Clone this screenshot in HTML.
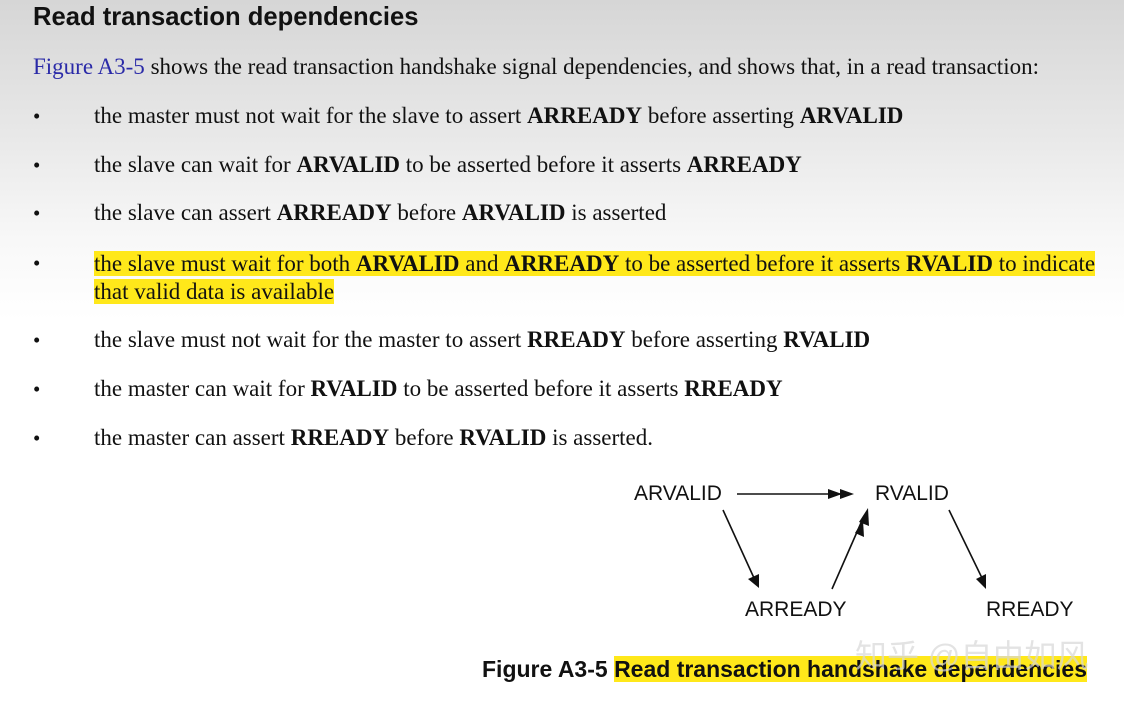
<!DOCTYPE html>
<html><head><style>
body{margin:0;width:1124px;height:702px;overflow:hidden;background:linear-gradient(#d6d6d6 0px,#e6e6e6 120px,#f8f8f8 240px,#fff 320px);position:relative;font-family:"Liberation Serif",serif;color:#111}
.t{position:absolute;font-size:23px;white-space:nowrap;line-height:26px}
.b{position:absolute;left:33px;font-size:21px;line-height:26px}
.s{position:absolute;font-family:"Liberation Sans",sans-serif;font-size:21px;white-space:nowrap;line-height:22px}
.hl{background:#ffe81a}
</style></head><body>
<div class="s" style="left:33px;top:6px;font-size:25.6px;font-weight:bold">Read transaction dependencies</div>
<div class="t" style="left:33px;top:54px"><span style="color:#2a2aa8">Figure A3-5</span> shows the read transaction handshake signal dependencies, and shows that, in a read transaction:</div>
<div class="b" style="top:103px">•</div><div class="t" style="left:94px;top:103px">the master must not wait for the slave to assert <b>ARREADY</b> before asserting <b>ARVALID</b></div>
<div class="b" style="top:152px">•</div><div class="t" style="left:94px;top:152px">the slave can wait for <b>ARVALID</b> to be asserted before it asserts <b>ARREADY</b></div>
<div class="b" style="top:200px">•</div><div class="t" style="left:94px;top:200px">the slave can assert <b>ARREADY</b> before <b>ARVALID</b> is asserted</div>
<div class="b" style="top:250px">•</div><div class="t" style="left:94px;top:250px;line-height:28px"><span class="hl">the slave must wait for both <b>ARVALID</b> and <b>ARREADY</b> to be asserted before it asserts <b>RVALID</b> to indicate</span><br><span class="hl">that valid data is available</span></div>
<div class="b" style="top:327px">•</div><div class="t" style="left:94px;top:327px">the slave must not wait for the master to assert <b>RREADY</b> before asserting <b>RVALID</b></div>
<div class="b" style="top:376px">•</div><div class="t" style="left:94px;top:376px">the master can wait for <b>RVALID</b> to be asserted before it asserts <b>RREADY</b></div>
<div class="b" style="top:425px">•</div><div class="t" style="left:94px;top:425px">the master can assert <b>RREADY</b> before <b>RVALID</b> is asserted.</div>
<div class="s" style="left:634px;top:483px">ARVALID</div>
<div class="s" style="left:875px;top:483px">RVALID</div>
<div class="s" style="left:745px;top:599px">ARREADY</div>
<div class="s" style="left:986px;top:599px">RREADY</div>
<svg style="position:absolute;left:0;top:0" width="1124" height="702">
<g stroke="#111" stroke-width="1.6" fill="#111">
<line x1="737" y1="494" x2="842" y2="494"/>
<polygon points="828,489 842,494 828,499" stroke="none"/><polygon points="840,489 854,494 840,499" stroke="none"/>
<line x1="723" y1="510" x2="754" y2="578"/>
<polygon points="748,579 759,588 759,574" stroke="none"/>
<line x1="832" y1="589" x2="864" y2="516"/>
<polygon points="859,522 868,508 869,526" stroke="none"/><polygon points="855,533 863,520 864,537" stroke="none"/>
<line x1="949" y1="510" x2="982" y2="578"/>
<polygon points="976,579 986,589 986,574" stroke="none"/>
</g></svg>
<div class="s" style="left:482px;top:657px;font-weight:bold;font-size:23px;line-height:25px">Figure A3-5 <span class="hl">Read transaction handshake dependencies</span></div>
<div class="s" style="left:855px;top:638px;font-size:32px;line-height:36px;color:rgba(215,215,215,0.7);font-family:'Liberation Sans','Noto Sans CJK SC',sans-serif">知乎 @自由如风</div>
</body></html>
